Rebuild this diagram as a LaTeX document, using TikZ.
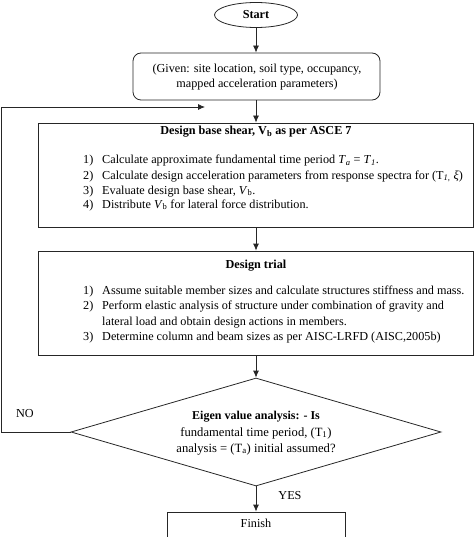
\documentclass[tikz,border=0pt]{standalone}
\usepackage{fontspec}
\setmainfont{Liberation Serif}
\usetikzlibrary{shapes.geometric,arrows.meta}
\newcommand{\itm}[1]{\makebox[19pt][l]{#1}}
\newcommand{\fsz}{\fontsize{12.2}{15}\selectfont}
\begin{document}
\begin{tikzpicture}[x=1pt,y=-1pt,
  line/.style={draw=black!85, line width=0.8pt},
  arr/.style={line, -{Latex[length=7pt,width=6pt]}},
  txt/.style={font=\fsz, inner sep=0pt, anchor=base west},
  ctxt/.style={font=\fsz, inner sep=0pt, anchor=base},
  box/.style={line, rectangle, inner sep=0pt},
]
\useasboundingbox (0,0) rectangle (474,537);
\clip (0,0) rectangle (474,537);
% Start
\node[line, ellipse, minimum width=83pt, minimum height=25pt, inner sep=0pt,
      font=\fsz\bfseries] (start) at (256,15) {Start};
% Given
\node[box, rounded corners=8pt, minimum width=247pt, minimum height=47pt] (given) at (256.5,76.5) {};
\node[ctxt] (g1) at (257,73) {(Given: site location, soil type, occupancy,};
\node[ctxt] (g2) at (257,88) {mapped acceleration parameters)};
% Design base shear
\node[box, minimum width=435pt, minimum height=104pt] (design) at (255.5,175) {};
\node[ctxt, font=\fsz\bfseries] (d0) at (256,135) {Design base shear, V\textsubscript{b} as per ASCE 7};
\node[txt] (d1) at (83,164) {\itm{1)}Calculate approximate fundamental time period \textit{T}\textsubscript{\textit{a}} = \textit{T}\textsubscript{\textit{1}}.};
\node[txt] (d2) at (83,179) {\itm{2)}Calculate design acceleration parameters from response spectra for (T\textsubscript{\textit{1,}} \textit{ξ})};
\node[txt] (d3) at (83,194) {\itm{3)}Evaluate design base shear, \textit{V}\textsubscript{b}.};
\node[txt] (d4) at (83,208) {\itm{4)}Distribute \textit{V}\textsubscript{b} for lateral force distribution.};
% Design trial
\node[box, minimum width=435pt, minimum height=104pt] (trial) at (255.5,303) {};
\node[ctxt, font=\fsz\bfseries] (t0) at (256,268) {Design trial};
\node[txt] (t1) at (83,294) {\itm{1)}Assume suitable member sizes and calculate structures stiffness and mass.};
\node[txt] (t2) at (83,309.5) {\itm{2)}Perform elastic analysis of structure under combination of gravity and};
\node[txt] (t2b) at (102,325) {lateral load and obtain design actions in members.};
\node[txt] (t3) at (83,340.5) {\itm{3)}Determine column and beam sizes as per AISC-LRFD (AISC,2005b)};
% Diamond
\node[line, diamond, minimum width=370pt, minimum height=108pt, inner sep=0pt] (dia) at (256,432) {};
\node[ctxt, font=\fontsize{12}{15}\selectfont\bfseries] (e1) at (256,419) {Eigen value analysis: - Is};
\node[ctxt, font=\fontsize{12.6}{16}\selectfont] (e2) at (256,436) {fundamental time period, (T\textsubscript{1})};
\node[ctxt, font=\fontsize{12.6}{16}\selectfont] (e3) at (256,452) {analysis = (T\textsubscript{a}) initial assumed?};
% Finish
\node[box, minimum width=178pt, minimum height=48pt] (finish) at (256,536) {};
\node[ctxt] (f1) at (256,527) {Finish};
% labels
\node[ctxt] (no) at (25,417) {NO};
\node[ctxt] (yes) at (290,499) {YES};
% connectors
\draw[arr] (start.south) -- (given.north -| start.south);
\draw[arr] (given.south -| start.south) -- (design.north -| start.south);
\draw[arr] (design.south -| start.south) -- (trial.north -| start.south);
\draw[arr] (trial.south -| start.south) -- (dia.north);
\draw[arr] (dia.south) -- (finish.north -| dia.south);
\coordinate (c1) at (1,432);
\coordinate (c2) at (1,107);
\coordinate (c3) at (205,107);
\draw[arr] (dia.west) -- (c1) -- (c2) -- (c3);
\end{tikzpicture}
\end{document}
